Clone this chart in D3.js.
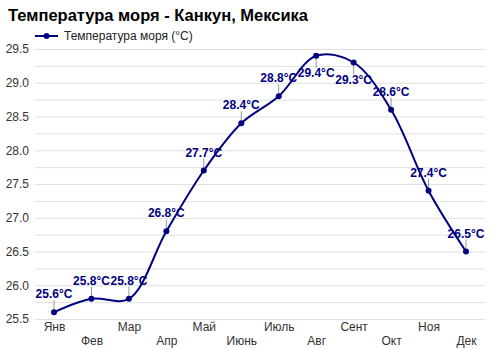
<!DOCTYPE html>
<html>
<head>
<meta charset="utf-8">
<script src="https://cdn.jsdelivr.net/npm/d3@7"></script>
<style>
  body { margin: 0; background: #fff; }
  svg { font-family: Arial, "Liberation Sans", sans-serif; }
</style>
</head>
<body>
<script>
const w = 500;
const h = 350;

const months = ["Янв", "Фев", "Мар", "Апр", "Май", "Июнь", "Июль", "Авг", "Сент", "Окт", "Ноя", "Дек"];
const temps = [25.6, 25.8, 25.8, 26.8, 27.7, 28.4, 28.8, 29.4, 29.3, 28.6, 27.4, 26.5];
// label sits below the point for these months
const below = ["Авг", "Сент"];
const yTicks = [25.5, 26.0, 26.5, 27.0, 27.5, 28.0, 28.5, 29.0, 29.5];
const title = "Температура моря - Канкун, Мексика";
const seriesName = "Температура моря (°C)";
const color = "#000080";

const svg = d3.select('body').append('svg').attr('width', w).attr('height', h);

const xScale = d3.scalePoint().domain(months).range([54, 466]);
const yScale = d3.scaleLinear().domain([25.5, 29.5]).range([319, 49]);

// gridlines every 0.25
const hGrid = d3.axisRight(yScale)
  .tickValues(d3.range(25.5, 29.51, 0.25))
  .tickFormat('')
  .tickSize(485 - 35);
svg.append('g')
  .attr('transform', 'translate(35,0)')
  .call(hGrid)
  .call(g => g.select('.domain').remove())
  .call(g => g.selectAll('line').attr('stroke', '#e0e0e0'));

// y axis
const yAxis = d3.axisLeft(yScale).tickValues(yTicks).tickFormat(d3.format('.1f')).tickSize(0).tickPadding(6);
svg.append('g')
  .attr('transform', 'translate(35,0)')
  .call(yAxis)
  .call(g => g.select('.domain').remove())
  .call(g => g.selectAll('text').attr('font-size', 12).attr('fill', '#333').attr('font-family', null));

// x axis, two staggered rows
const xAxis = d3.axisBottom(xScale).tickSize(0).tickPadding(0);
svg.append('g')
  .attr('transform', 'translate(0,322)')
  .call(xAxis)
  .call(g => g.select('.domain').remove())
  .call(g => g.selectAll('text')
    .attr('font-size', 12).attr('fill', '#333').attr('font-family', null)
    .attr('dy', (d, i) => i % 2 === 0 ? '0.71em' : '1.88em'));

// line
const line = d3.line()
  .x((d, i) => xScale(months[i]))
  .y(d => yScale(d))
  .curve(d3.curveCatmullRom.alpha(0.5));

svg.append('path')
  .datum(temps)
  .attr('fill', 'none')
  .attr('stroke', color)
  .attr('stroke-width', 2)
  .attr('d', line);

// leader lines
svg.selectAll('.leader')
  .data(temps)
  .enter()
  .append('line')
  .attr('x1', (d, i) => xScale(months[i]))
  .attr('x2', (d, i) => xScale(months[i]))
  .attr('y1', d => yScale(d))
  .attr('y2', (d, i) => yScale(d) + (below.includes(months[i]) ? 12 : -12))
  .attr('stroke', '#999')
  .attr('stroke-width', 1);

svg.selectAll('.pt')
  .data(temps)
  .enter()
  .append('circle')
  .attr('cx', (d, i) => xScale(months[i]))
  .attr('cy', d => yScale(d))
  .attr('r', 3)
  .attr('fill', color);

svg.selectAll('.lbl')
  .data(temps)
  .enter()
  .append('text')
  .attr('x', (d, i) => xScale(months[i]))
  .attr('y', (d, i) => yScale(d) + (below.includes(months[i]) ? 21 : -14))
  .attr('text-anchor', 'middle')
  .attr('font-size', 12)
  .attr('font-weight', 'bold')
  .attr('fill', color)
  .text(d => d.toFixed(1) + '°C');

// title
svg.append('text')
  .attr('x', 8).attr('y', 21)
  .attr('font-size', 16.5).attr('font-weight', 'bold')
  .text(title);

// legend
svg.append('line').attr('x1', 35).attr('x2', 58).attr('y1', 36).attr('y2', 36)
  .attr('stroke', color).attr('stroke-width', 2);
svg.append('circle').attr('cx', 46.5).attr('cy', 36).attr('r', 3).attr('fill', color);
svg.append('text').attr('x', 64).attr('y', 40).attr('font-size', 12).attr('fill', '#222')
  .text(seriesName);
</script>
</body>
</html>
